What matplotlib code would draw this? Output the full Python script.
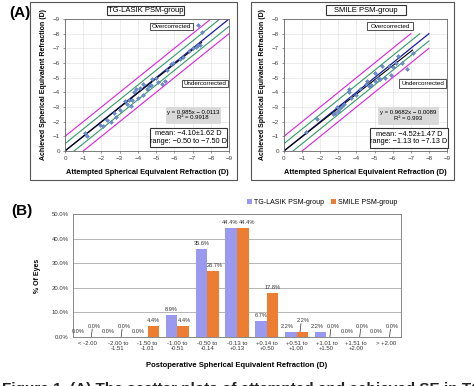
import numpy as np
import matplotlib.pyplot as plt
from matplotlib.patches import Rectangle

# ---- Data ----
# TG-LASIK: attempted vs achieved SE (D)
tg_att = [-1.1, -1.2, -1.9, -2.1, -2.3, -2.5, -2.7, -2.8, -3.0, -3.3, -3.4, -3.5, -3.6, -3.7,
          -3.8, -3.9, -4.0, -4.1, -4.3, -4.3, -4.5, -4.6, -4.7, -4.8, -5.0, -5.1, -5.3, -5.5,
          -5.6, -5.8, -5.9, -6.3, -6.5, -6.8, -7.0, -7.2, -7.3, -7.4, -7.5, -7.3]
tg_ach = [-1.2, -1.0, -1.8, -1.7, -2.1, -2.0, -2.6, -2.3, -2.8, -3.4, -3.2, -3.5, -3.1, -3.5,
          -4.0, -4.2, -3.6, -4.3, -4.6, -3.8, -4.2, -4.4, -4.5, -4.9, -5.0, -4.7, -4.6, -4.8,
          -5.5, -5.9, -6.0, -6.3, -6.4, -6.8, -7.0, -7.1, -7.2, -7.2, -8.1, -8.6]

# SMILE: attempted vs achieved SE (D)
sm_att = [-1.2, -1.8, -2.8, -2.9, -3.0, -3.1, -3.2, -3.6, -3.6, -3.7, -4.0, -4.2, -4.5, -4.6,
          -4.7, -4.8, -5.0, -5.0, -5.2, -5.3, -5.4, -5.6, -5.8, -5.9, -6.0, -6.2, -6.3, -6.5,
          -6.8, -7.1, -2.7, -3.3]
sm_ach = [-1.3, -2.2, -2.6, -3.0, -2.7, -2.9, -3.1, -4.2, -4.0, -3.6, -3.8, -4.2, -4.6, -4.8,
          -4.4, -4.5, -5.3, -4.8, -5.0, -4.9, -5.8, -5.0, -5.8, -5.2, -5.7, -6.0, -6.5, -6.0,
          -5.6, -6.7, -2.5, -3.2]

# Postoperative SE distribution (% of eyes)
categories = ["< -2.00", "-2.00 to\n-1.51", "-1.50 to\n-1.01", "-1.00 to\n-0.51", "-0.50 to\n-0.14",
              "-0.13 to\n+0.13", "+0.14 to\n+0.50", "+0.51 to\n+1.00", "+1.01 to\n+1.50",
              "+1.51 to\n+2.00", "> +2.00"]
tg_pct = [0.0, 0.0, 0.0, 8.9, 35.6, 44.4, 6.7, 2.2, 2.2, 0.0, 0.0]
sm_pct = [0.0, 0.0, 4.4, 4.4, 26.7, 44.4, 17.8, 2.2, 0.0, 0.0, 0.0]

W, H = 474, 386


def fx(px):
    return px / W


def fy(py):
    return 1 - py / H


def box(px0, py0, px1, py1):
    return [fx(px0), fy(py1), fx(px1) - fx(px0), fy(py0) - fy(py1)]


fig = plt.figure(figsize=(4.74, 3.86), dpi=100)
plt.rcParams['font.family'] = ['Liberation Sans', 'DejaVu Sans']

# ---- outer frames for panel A ----
for (a, b, c, d) in [(30, 2, 237, 180), (251, 2, 454, 180)]:
    fig.patches.append(Rectangle((fx(a), fy(d)), fx(c) - fx(a), fy(b) - fy(d),
                                 transform=fig.transFigure, fill=False,
                                 edgecolor='#555555', lw=0.8))

fig.text(fx(9), fy(13), "(A)", fontsize=11, fontweight='bold', va='center')
fig.text(fx(11), fy(211), "(B)", fontsize=11, fontweight='bold', va='center')


def scatter_panel(rect, att, ach, title, lim, slope, icpt, eq, r2, mean_txt, range_txt,
                  title_rect, over_rect, under_rect, eq_rect, stat_rect, reg_end):
    ax = fig.add_axes(box(*rect))
    ax.set_xlim(0, -9)
    ax.set_ylim(0, -9)
    ax.set_xticks(np.arange(0, -10, -1))
    ax.set_yticks(np.arange(0, -10, -1))
    ax.set_xticklabels([str(int(v)) if v == 0 else f"\u2212{int(-v)}" for v in ax.get_xticks()])
    ax.set_yticklabels([str(int(v)) if v == 0 else f"\u2212{int(-v)}" for v in ax.get_yticks()])
    ax.tick_params(labelsize=4.5, length=1.5, width=0.4, pad=2, colors='#444444')
    ax.grid(color='#dddddd', lw=0.4)
    for s in ax.spines.values():
        s.set_color('#666666')
        s.set_linewidth(0.6)
    # reference lines
    ax.plot([0, lim], [0, lim], color='#1a1aa0', lw=0.9)
    ax.plot([0, lim + 0.5], [-0.5, lim], color='#339966', lw=0.8)
    ax.plot([-0.5, lim], [0, lim + 0.5], color='#339966', lw=0.8)
    ax.plot([0, lim + 1], [-1, lim], color='#dd22dd', lw=0.8)
    ax.plot([-1, lim], [0, lim + 1], color='#dd22dd', lw=0.8)
    xr = np.array([0, reg_end])
    ax.plot(xr, slope * xr + icpt, color='black', lw=0.8)
    ax.scatter(att, ach, s=4, marker='D', color='#6d8fcc', edgecolors='#4a6fb0',
               linewidths=0.3, zorder=5)
    ax.set_xlabel("Attempted Spherical Equivalent Refraction (D)", fontsize=5.3,
                  fontweight='bold', labelpad=6)
    ax.set_ylabel("Achieved Spherical Equivalent Refraction (D)", fontsize=5.0,
                  fontweight='bold', labelpad=4)

    def label(r, txt, fc='white', ec='#333333', fs=5.0, lw=0.6):
        a, b, c, d = r
        fig.patches.append(Rectangle((fx(a), fy(d)), fx(c) - fx(a), fy(b) - fy(d),
                                     transform=fig.transFigure, facecolor=fc,
                                     edgecolor=ec, lw=lw, zorder=10))
        fig.text(fx((a + c) / 2), fy((b + d) / 2), txt, fontsize=fs, ha='center',
                 va='center', zorder=11, linespacing=1.1)

    label(title_rect, title, fs=5.5, lw=0.8)
    label(over_rect, "Overcorrected", fs=4.5)
    label(under_rect, "Undercorrected", fs=4.5)
    label(eq_rect, f"{eq}\n{r2}", fc='#d9d9d9', ec='#d9d9d9', fs=4.3)
    label(stat_rect, f"{mean_txt}\n{range_txt}", fs=5.3, lw=0.8)
    return ax


scatter_panel((65, 19, 229, 151), tg_att, tg_ach, "TG-LASIK PSM-group", -9, 0.985, -0.0113,
              "y = 0.985x \u2212 0.0113", "R\u00b2 = 0.9918",
              "mean: \u22124.10\u00b11.62 D", "range: \u22120.50 to \u22127.50 D",
              (107, 6, 184, 15), (150, 23, 193, 30), (182, 80, 228, 87),
              (166, 107, 220, 123), (150, 128, 227, 147), -7.5)
scatter_panel((284, 19, 447, 151), sm_att, sm_ach, "SMILE PSM-group", -8, 0.9682, -0.0089,
              "y = 0.9682x \u2212 0.0089", "R\u00b2 = 0.993",
              "mean: \u22124.52\u00b11.47 D", "range: \u22121.13 to \u22127.13 D",
              (326, 5, 406, 15), (367, 22, 413, 30), (399, 79, 446, 88),
              (378, 107, 438, 124), (370, 128, 448, 148), -7.1)

# ---- panel B ----
axb = fig.add_axes(box(73, 214, 401, 337))
x = np.arange(len(categories))
bw = 0.39
c_tg = '#9999f0'
c_sm = '#ed7d31'
axb.bar(x - bw / 2, tg_pct, bw, color=c_tg, label="TG-LASIK PSM-group")
axb.bar(x + bw / 2, sm_pct, bw, color=c_sm, label="SMILE PSM-group")
axb.set_xlim(-0.5, len(categories) - 0.5)
axb.set_ylim(0, 50)
axb.set_yticks(np.arange(0, 51, 10))
axb.set_yticklabels([f"{v:.1f}%" for v in np.arange(0, 51, 10)])
axb.set_xticks(x)
axb.set_xticklabels(categories, linespacing=1.0)
axb.tick_params(labelsize=4.3, length=0, pad=3, colors='#333333')
axb.yaxis.grid(True, color='#aaaaaa', lw=0.6)
axb.set_axisbelow(True)
for s in axb.spines.values():
    s.set_color('#888888')
    s.set_linewidth(0.7)
axb.set_ylabel("% Of Eyes", fontsize=5, fontweight='bold', labelpad=8)
axb.set_xlabel("Postoperative Spherical Equivalent Refraction (D)", fontsize=5.5,
               fontweight='bold', labelpad=8)
lab_fs = 4.1
for i in range(len(categories)):
    t, s = tg_pct[i], sm_pct[i]
    close = t > 3 and s > 3 and abs(s - t) < 3
    axb.text(x[i] - bw / 2 - (0.12 if t < 3 else 0) - (0.05 if close else 0), t + 1.2,
             f"{t:.1f}%", fontsize=lab_fs, ha='center', va='bottom', color='#333333')
    if s < 3:
        axb.plot([x[i] + bw / 2 - 0.05, x[i] + bw / 2 - 0.08], [s + 3.2, s], color='#333333', lw=0.5)
        axb.text(x[i] + bw / 2 + 0.02, s + 3.4, f"{s:.1f}%", fontsize=lab_fs, ha='center',
                 va='bottom', color='#333333')
    else:
        dx = 0.15 if close else (0.05 if s < t else 0)
        axb.text(x[i] + bw / 2 + dx, s + 1.2, f"{s:.1f}%", fontsize=lab_fs, ha='center',
                 va='bottom', color='#333333')
axb.legend(loc='lower right', bbox_to_anchor=(1.0, 1.04), ncol=2, fontsize=5, frameon=False,
           handlelength=0.7, handleheight=0.7, handletextpad=0.3, columnspacing=1.0,
           borderpad=0)

# caption (cut by the bottom edge, as in the source page)
fig.text(fx(2), fy(382.5), "Figure 1. (A) The scatter plots of attempted and achieved SE in TG-LASIK",
         fontsize=11, fontweight='bold', va='top', ha='left', color='#222222')

fig.savefig("out.png", dpi=100)
